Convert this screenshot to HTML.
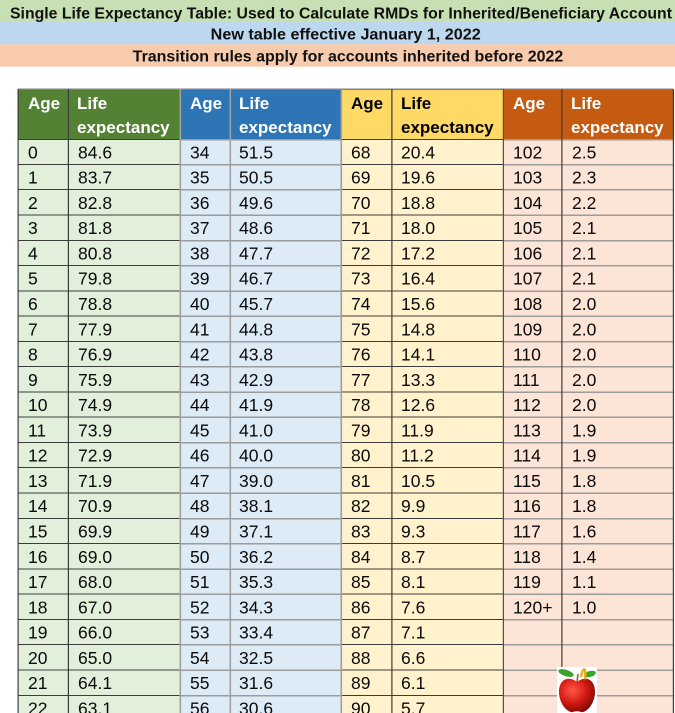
<!DOCTYPE html>
<html><head><meta charset="utf-8"><style>
html,body{margin:0;padding:0;background:#fff;}
svg{display:block;}
.t{font-family:"Liberation Sans",Arial,sans-serif;font-weight:bold;fill:#111;}
.h{font-family:"Liberation Sans",Arial,sans-serif;font-weight:bold;font-size:17px;}
.b{font-family:"Liberation Sans",Arial,sans-serif;font-size:17.5px;fill:#0a0a0a;}
</style></head><body>
<svg width="675" height="713" viewBox="0 0 675 713" xmlns="http://www.w3.org/2000/svg">
<defs>
<radialGradient id="ap" cx="0.38" cy="0.35" r="0.7">
<stop offset="0" stop-color="#ff5a4a"/><stop offset="0.55" stop-color="#d41a12"/><stop offset="1" stop-color="#7a0a05"/>
</radialGradient>
</defs>
<!-- title bands -->
<rect x="0" y="0" width="675" height="22" fill="#c6e0b4"/>
<rect x="0" y="22" width="675" height="22.3" fill="#bdd7ee"/>
<rect x="0" y="44.3" width="675" height="22.4" fill="#f8cbad"/>
<text class="t" x="10" y="18.3" font-size="15.5" textLength="662" lengthAdjust="spacingAndGlyphs">Single Life Expectancy Table: Used to Calculate RMDs for Inherited/Beneficiary Account</text>
<text class="t" x="210.7" y="39.3" font-size="15.5" textLength="270" lengthAdjust="spacingAndGlyphs">New table effective January 1, 2022</text>
<text class="t" x="132.7" y="61.7" font-size="15.5" textLength="430.6" lengthAdjust="spacingAndGlyphs">Transition rules apply for accounts inherited before 2022</text>

<!-- headers -->
<rect x="18" y="89" width="162" height="50" fill="#548235"/>
<rect x="180" y="89" width="161" height="50" fill="#2e75b6"/>
<rect x="341" y="89" width="162" height="50" fill="#ffd966"/>
<rect x="503" y="89" width="170" height="50" fill="#c55a11"/>
<!-- bodies -->
<rect x="18" y="139" width="162" height="574" fill="#e2efda"/>
<rect x="180" y="139" width="161" height="574" fill="#ddebf7"/>
<rect x="341" y="139" width="162" height="574" fill="#fff2cc"/>
<rect x="503" y="139" width="170" height="574" fill="#fce4d6"/>

<!-- horizontal lines -->
<g id="hl">
<g fill="#3c3c3c">
<rect x="18" y="139" width="162" height="1"/><rect x="341" y="139" width="162" height="1"/>
<rect x="18" y="164" width="162" height="1"/><rect x="341" y="164" width="162" height="1"/>
<rect x="18" y="189" width="162" height="1"/><rect x="341" y="189" width="162" height="1"/>
<rect x="18" y="214.5" width="162" height="1"/><rect x="341" y="214.5" width="162" height="1"/>
<rect x="18" y="240" width="162" height="1"/><rect x="341" y="240" width="162" height="1"/>
<rect x="18" y="265" width="162" height="1"/><rect x="341" y="265" width="162" height="1"/>
<rect x="18" y="290.5" width="162" height="1"/><rect x="341" y="290.5" width="162" height="1"/>
<rect x="18" y="315.5" width="162" height="1"/><rect x="341" y="315.5" width="162" height="1"/>
<rect x="18" y="341" width="162" height="1"/><rect x="341" y="341" width="162" height="1"/>
<rect x="18" y="366" width="162" height="1"/><rect x="341" y="366" width="162" height="1"/>
<rect x="18" y="391.5" width="162" height="1"/><rect x="341" y="391.5" width="162" height="1"/>
<rect x="18" y="416.5" width="162" height="1"/><rect x="341" y="416.5" width="162" height="1"/>
<rect x="18" y="442" width="162" height="1"/><rect x="341" y="442" width="162" height="1"/>
<rect x="18" y="467" width="162" height="1"/><rect x="341" y="467" width="162" height="1"/>
<rect x="18" y="492.5" width="162" height="1"/><rect x="341" y="492.5" width="162" height="1"/>
<rect x="18" y="518" width="162" height="1"/><rect x="341" y="518" width="162" height="1"/>
<rect x="18" y="543" width="162" height="1"/><rect x="341" y="543" width="162" height="1"/>
<rect x="18" y="568.5" width="162" height="1"/><rect x="341" y="568.5" width="162" height="1"/>
<rect x="18" y="593.5" width="162" height="1"/><rect x="341" y="593.5" width="162" height="1"/>
<rect x="18" y="619" width="162" height="1"/><rect x="341" y="619" width="162" height="1"/>
<rect x="18" y="644" width="162" height="1"/><rect x="341" y="644" width="162" height="1"/>
<rect x="18" y="669.5" width="162" height="1"/><rect x="341" y="669.5" width="162" height="1"/>
<rect x="18" y="695" width="162" height="1"/><rect x="341" y="695" width="162" height="1"/>
</g>
<g fill="#9c9c9c">
<rect x="180" y="139" width="161" height="1.5"/><rect x="503" y="139" width="170" height="1.5"/>
<rect x="180" y="164" width="161" height="1.5"/><rect x="503" y="164" width="170" height="1.5"/>
<rect x="180" y="189" width="161" height="1.5"/><rect x="503" y="189" width="170" height="1.5"/>
<rect x="180" y="214.5" width="161" height="1.5"/><rect x="503" y="214.5" width="170" height="1.5"/>
<rect x="180" y="240" width="161" height="1.5"/><rect x="503" y="240" width="170" height="1.5"/>
<rect x="180" y="265" width="161" height="1.5"/><rect x="503" y="265" width="170" height="1.5"/>
<rect x="180" y="290.5" width="161" height="1.5"/><rect x="503" y="290.5" width="170" height="1.5"/>
<rect x="180" y="315.5" width="161" height="1.5"/><rect x="503" y="315.5" width="170" height="1.5"/>
<rect x="180" y="341" width="161" height="1.5"/><rect x="503" y="341" width="170" height="1.5"/>
<rect x="180" y="366" width="161" height="1.5"/><rect x="503" y="366" width="170" height="1.5"/>
<rect x="180" y="391.5" width="161" height="1.5"/><rect x="503" y="391.5" width="170" height="1.5"/>
<rect x="180" y="416.5" width="161" height="1.5"/><rect x="503" y="416.5" width="170" height="1.5"/>
<rect x="180" y="442" width="161" height="1.5"/><rect x="503" y="442" width="170" height="1.5"/>
<rect x="180" y="467" width="161" height="1.5"/><rect x="503" y="467" width="170" height="1.5"/>
<rect x="180" y="492.5" width="161" height="1.5"/><rect x="503" y="492.5" width="170" height="1.5"/>
<rect x="180" y="518" width="161" height="1.5"/><rect x="503" y="518" width="170" height="1.5"/>
<rect x="180" y="543" width="161" height="1.5"/><rect x="503" y="543" width="170" height="1.5"/>
<rect x="180" y="568.5" width="161" height="1.5"/><rect x="503" y="568.5" width="170" height="1.5"/>
<rect x="180" y="593.5" width="161" height="1.5"/><rect x="503" y="593.5" width="170" height="1.5"/>
<rect x="180" y="619" width="161" height="1.5"/><rect x="503" y="619" width="170" height="1.5"/>
<rect x="180" y="644" width="161" height="1.5"/><rect x="503" y="644" width="170" height="1.5"/>
<rect x="180" y="669.5" width="161" height="1.5"/><rect x="503" y="669.5" width="170" height="1.5"/>
<rect x="180" y="695" width="161" height="1.5"/><rect x="503" y="695" width="170" height="1.5"/>
</g>
</g>
<!-- top border -->
<rect x="18" y="88.5" width="655" height="1.5" fill="#808080"/>
<!-- vertical lines -->
<rect x="17.5" y="89" width="1.2" height="624" fill="#3c3c3c"/>
<rect x="67.8" y="89" width="1.2" height="624" fill="#3c3c3c"/>
<rect x="179.5" y="89" width="1.6" height="624" fill="#a0a0a0"/>
<rect x="229.5" y="89" width="1.6" height="624" fill="#a0a0a0"/>
<rect x="340.5" y="89" width="1.6" height="624" fill="#a0a0a0"/>
<rect x="391.3" y="89" width="1.2" height="624" fill="#3c3c3c"/>
<rect x="502.8" y="89" width="1.2" height="624" fill="#505050"/>
<rect x="561.3" y="89" width="1.2" height="624" fill="#3c3c3c"/>
<rect x="672.8" y="89" width="1.2" height="624" fill="#3c3c3c"/>

<!-- header text -->
<g class="h" fill="#fff">
<text x="28" y="109">Age</text><text x="77" y="109">Life</text><text x="77" y="133">expectancy</text>
<text x="190" y="109">Age</text><text x="239" y="109">Life</text><text x="239" y="133">expectancy</text>
<text x="513" y="109">Age</text><text x="571" y="109">Life</text><text x="571" y="133">expectancy</text>
</g>
<g class="h" fill="#000">
<text x="351" y="109">Age</text><text x="401" y="109">Life</text><text x="401" y="133">expectancy</text>
</g>

<!-- body text -->
<text class="b"><tspan x="28" y="158.3">0</tspan><tspan x="28" y="183.6">1</tspan><tspan x="28" y="208.9">2</tspan><tspan x="28" y="234.1">3</tspan><tspan x="28" y="259.4">4</tspan><tspan x="28" y="284.7">5</tspan><tspan x="28" y="310">6</tspan><tspan x="28" y="335.3">7</tspan><tspan x="28" y="360.5">8</tspan><tspan x="28" y="385.8">9</tspan><tspan x="28" y="411.1">10</tspan><tspan x="28" y="436.4">11</tspan><tspan x="28" y="461.7">12</tspan><tspan x="28" y="486.9">13</tspan><tspan x="28" y="512.2">14</tspan><tspan x="28" y="537.5">15</tspan><tspan x="28" y="562.8">16</tspan><tspan x="28" y="588.1">17</tspan><tspan x="28" y="613.3">18</tspan><tspan x="28" y="638.6">19</tspan><tspan x="28" y="663.9">20</tspan><tspan x="28" y="689.2">21</tspan><tspan x="28" y="714.5">22</tspan></text>
<text class="b"><tspan x="78" y="158.3">84.6</tspan><tspan x="78" y="183.6">83.7</tspan><tspan x="78" y="208.9">82.8</tspan><tspan x="78" y="234.1">81.8</tspan><tspan x="78" y="259.4">80.8</tspan><tspan x="78" y="284.7">79.8</tspan><tspan x="78" y="310">78.8</tspan><tspan x="78" y="335.3">77.9</tspan><tspan x="78" y="360.5">76.9</tspan><tspan x="78" y="385.8">75.9</tspan><tspan x="78" y="411.1">74.9</tspan><tspan x="78" y="436.4">73.9</tspan><tspan x="78" y="461.7">72.9</tspan><tspan x="78" y="486.9">71.9</tspan><tspan x="78" y="512.2">70.9</tspan><tspan x="78" y="537.5">69.9</tspan><tspan x="78" y="562.8">69.0</tspan><tspan x="78" y="588.1">68.0</tspan><tspan x="78" y="613.3">67.0</tspan><tspan x="78" y="638.6">66.0</tspan><tspan x="78" y="663.9">65.0</tspan><tspan x="78" y="689.2">64.1</tspan><tspan x="78" y="714.5">63.1</tspan></text>
<text class="b"><tspan x="190" y="158.3">34</tspan><tspan x="190" y="183.6">35</tspan><tspan x="190" y="208.9">36</tspan><tspan x="190" y="234.1">37</tspan><tspan x="190" y="259.4">38</tspan><tspan x="190" y="284.7">39</tspan><tspan x="190" y="310">40</tspan><tspan x="190" y="335.3">41</tspan><tspan x="190" y="360.5">42</tspan><tspan x="190" y="385.8">43</tspan><tspan x="190" y="411.1">44</tspan><tspan x="190" y="436.4">45</tspan><tspan x="190" y="461.7">46</tspan><tspan x="190" y="486.9">47</tspan><tspan x="190" y="512.2">48</tspan><tspan x="190" y="537.5">49</tspan><tspan x="190" y="562.8">50</tspan><tspan x="190" y="588.1">51</tspan><tspan x="190" y="613.3">52</tspan><tspan x="190" y="638.6">53</tspan><tspan x="190" y="663.9">54</tspan><tspan x="190" y="689.2">55</tspan><tspan x="190" y="714.5">56</tspan></text>
<text class="b"><tspan x="239" y="158.3">51.5</tspan><tspan x="239" y="183.6">50.5</tspan><tspan x="239" y="208.9">49.6</tspan><tspan x="239" y="234.1">48.6</tspan><tspan x="239" y="259.4">47.7</tspan><tspan x="239" y="284.7">46.7</tspan><tspan x="239" y="310">45.7</tspan><tspan x="239" y="335.3">44.8</tspan><tspan x="239" y="360.5">43.8</tspan><tspan x="239" y="385.8">42.9</tspan><tspan x="239" y="411.1">41.9</tspan><tspan x="239" y="436.4">41.0</tspan><tspan x="239" y="461.7">40.0</tspan><tspan x="239" y="486.9">39.0</tspan><tspan x="239" y="512.2">38.1</tspan><tspan x="239" y="537.5">37.1</tspan><tspan x="239" y="562.8">36.2</tspan><tspan x="239" y="588.1">35.3</tspan><tspan x="239" y="613.3">34.3</tspan><tspan x="239" y="638.6">33.4</tspan><tspan x="239" y="663.9">32.5</tspan><tspan x="239" y="689.2">31.6</tspan><tspan x="239" y="714.5">30.6</tspan></text>
<text class="b"><tspan x="351" y="158.3">68</tspan><tspan x="351" y="183.6">69</tspan><tspan x="351" y="208.9">70</tspan><tspan x="351" y="234.1">71</tspan><tspan x="351" y="259.4">72</tspan><tspan x="351" y="284.7">73</tspan><tspan x="351" y="310">74</tspan><tspan x="351" y="335.3">75</tspan><tspan x="351" y="360.5">76</tspan><tspan x="351" y="385.8">77</tspan><tspan x="351" y="411.1">78</tspan><tspan x="351" y="436.4">79</tspan><tspan x="351" y="461.7">80</tspan><tspan x="351" y="486.9">81</tspan><tspan x="351" y="512.2">82</tspan><tspan x="351" y="537.5">83</tspan><tspan x="351" y="562.8">84</tspan><tspan x="351" y="588.1">85</tspan><tspan x="351" y="613.3">86</tspan><tspan x="351" y="638.6">87</tspan><tspan x="351" y="663.9">88</tspan><tspan x="351" y="689.2">89</tspan><tspan x="351" y="714.5">90</tspan></text>
<text class="b"><tspan x="401" y="158.3">20.4</tspan><tspan x="401" y="183.6">19.6</tspan><tspan x="401" y="208.9">18.8</tspan><tspan x="401" y="234.1">18.0</tspan><tspan x="401" y="259.4">17.2</tspan><tspan x="401" y="284.7">16.4</tspan><tspan x="401" y="310">15.6</tspan><tspan x="401" y="335.3">14.8</tspan><tspan x="401" y="360.5">14.1</tspan><tspan x="401" y="385.8">13.3</tspan><tspan x="401" y="411.1">12.6</tspan><tspan x="401" y="436.4">11.9</tspan><tspan x="401" y="461.7">11.2</tspan><tspan x="401" y="486.9">10.5</tspan><tspan x="401" y="512.2">9.9</tspan><tspan x="401" y="537.5">9.3</tspan><tspan x="401" y="562.8">8.7</tspan><tspan x="401" y="588.1">8.1</tspan><tspan x="401" y="613.3">7.6</tspan><tspan x="401" y="638.6">7.1</tspan><tspan x="401" y="663.9">6.6</tspan><tspan x="401" y="689.2">6.1</tspan><tspan x="401" y="714.5">5.7</tspan></text>
<text class="b"><tspan x="513" y="158.3">102</tspan><tspan x="513" y="183.6">103</tspan><tspan x="513" y="208.9">104</tspan><tspan x="513" y="234.1">105</tspan><tspan x="513" y="259.4">106</tspan><tspan x="513" y="284.7">107</tspan><tspan x="513" y="310">108</tspan><tspan x="513" y="335.3">109</tspan><tspan x="513" y="360.5">110</tspan><tspan x="513" y="385.8">111</tspan><tspan x="513" y="411.1">112</tspan><tspan x="513" y="436.4">113</tspan><tspan x="513" y="461.7">114</tspan><tspan x="513" y="486.9">115</tspan><tspan x="513" y="512.2">116</tspan><tspan x="513" y="537.5">117</tspan><tspan x="513" y="562.8">118</tspan><tspan x="513" y="588.1">119</tspan><tspan x="513" y="613.3">120+</tspan></text>
<text class="b"><tspan x="572" y="158.3">2.5</tspan><tspan x="572" y="183.6">2.3</tspan><tspan x="572" y="208.9">2.2</tspan><tspan x="572" y="234.1">2.1</tspan><tspan x="572" y="259.4">2.1</tspan><tspan x="572" y="284.7">2.1</tspan><tspan x="572" y="310">2.0</tspan><tspan x="572" y="335.3">2.0</tspan><tspan x="572" y="360.5">2.0</tspan><tspan x="572" y="385.8">2.0</tspan><tspan x="572" y="411.1">2.0</tspan><tspan x="572" y="436.4">1.9</tspan><tspan x="572" y="461.7">1.9</tspan><tspan x="572" y="486.9">1.8</tspan><tspan x="572" y="512.2">1.8</tspan><tspan x="572" y="537.5">1.6</tspan><tspan x="572" y="562.8">1.4</tspan><tspan x="572" y="588.1">1.1</tspan><tspan x="572" y="613.3">1.0</tspan></text>

<!-- apple -->
<rect x="557" y="667" width="40" height="46" fill="#fff"/>
<path d="M577 682 C570 676 559 678 559 692 C559 703 567 713 573 712 C575 711 579 711 581 712 C587 713 595 703 595 692 C595 678 584 676 577 682 Z" fill="url(#ap)"/>
<path d="M577 682 L578 674" stroke="#8a5a2a" stroke-width="1.5"/>
<ellipse cx="566" cy="673" rx="8" ry="3.2" fill="#3aa32a" transform="rotate(18 566 673)"/>
<ellipse cx="590" cy="674" rx="6" ry="3" fill="#3aa32a" transform="rotate(-15 590 674)"/>
<path d="M581 677 C582 671 584 668 585 670 C586 673 584 677 586 679" stroke="#e8b020" stroke-width="2.5" fill="none"/>
</svg>
</body></html>
